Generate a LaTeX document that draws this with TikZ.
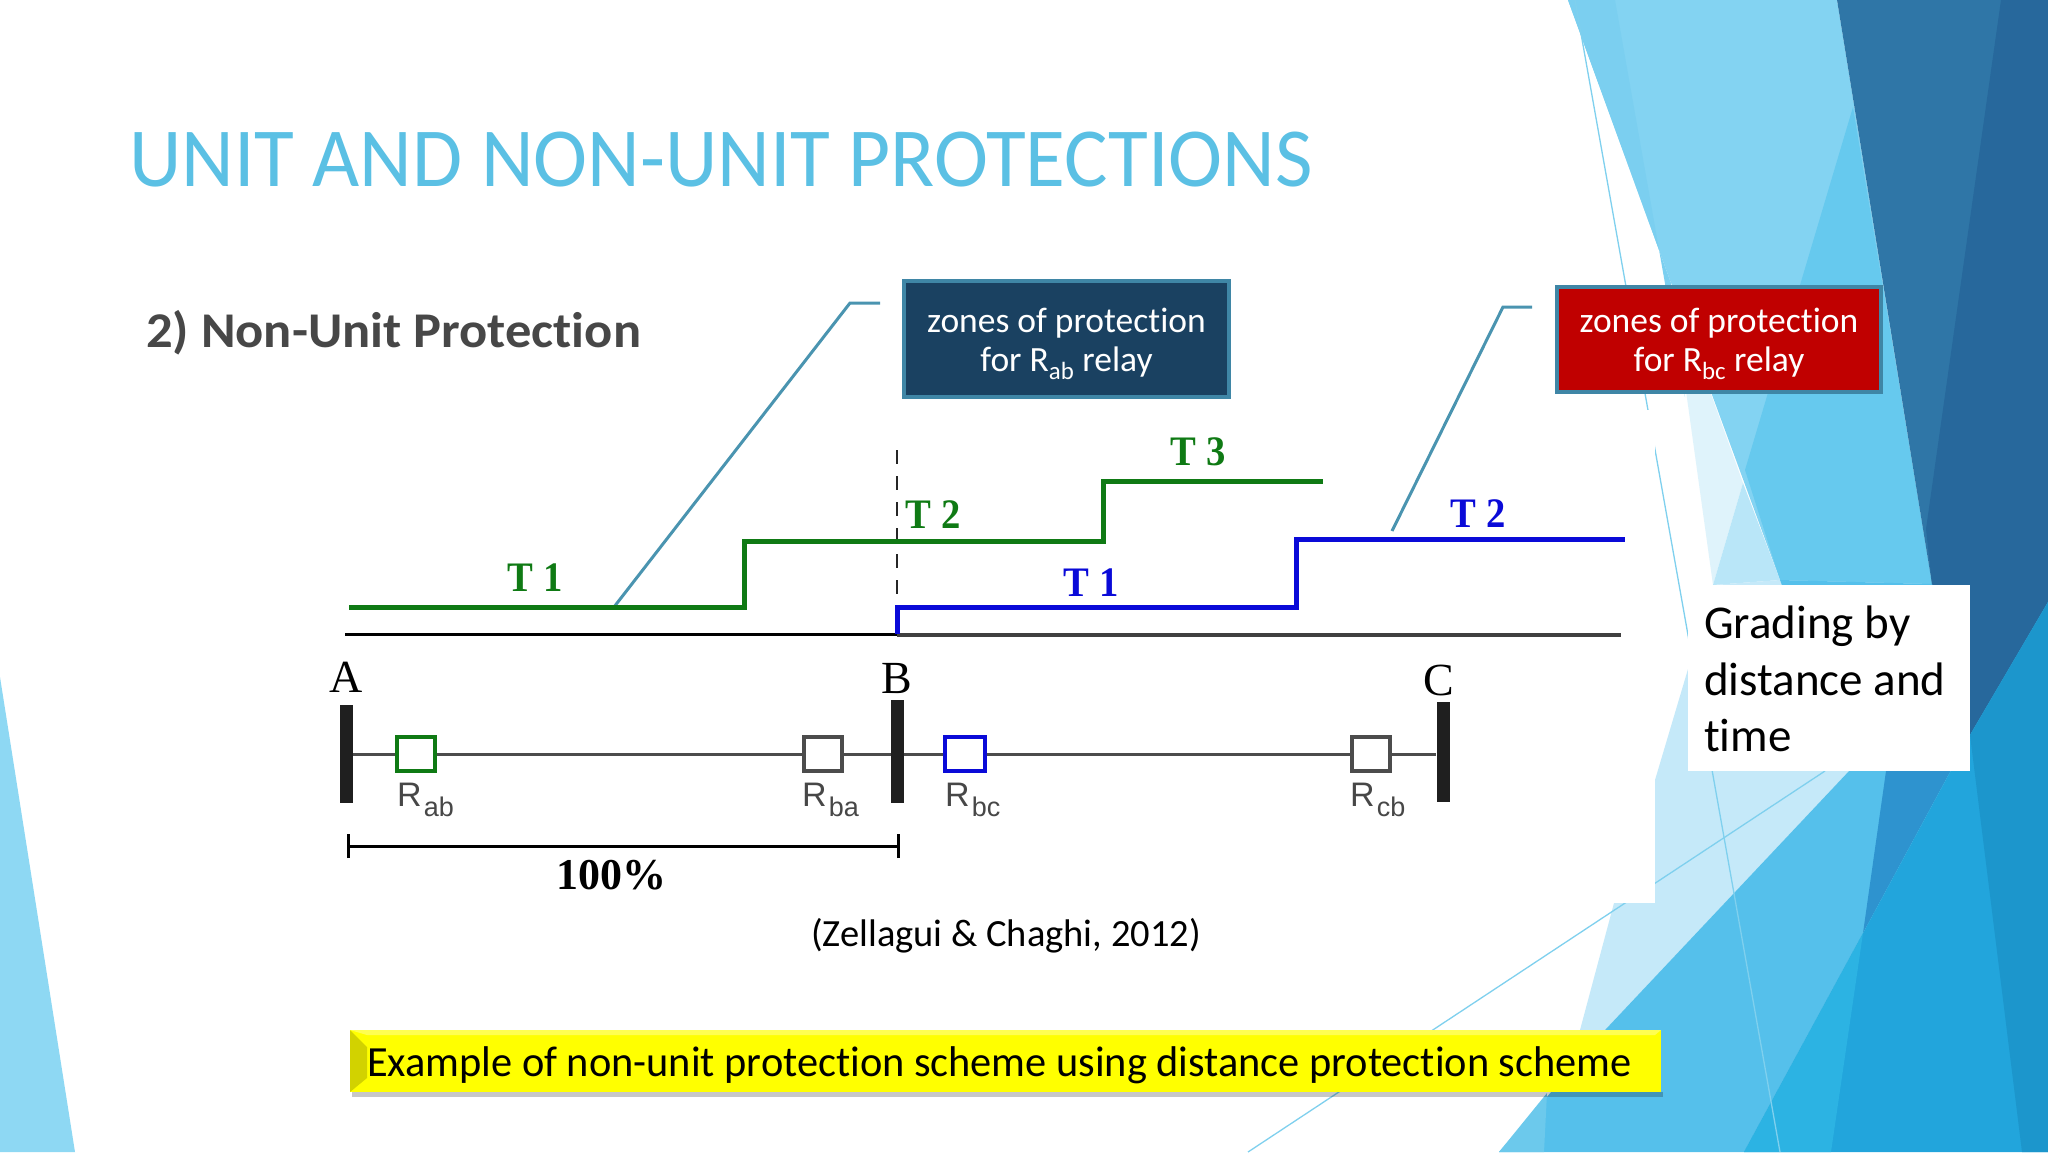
\documentclass[tikz,border=0pt]{standalone}
\usepackage{fontspec}
\setmainfont{Carlito}[Ligatures={TeX,NoCommon}]
\newfontfamily\hel{Liberation Sans}
\newfontfamily\ser{Liberation Serif}
\newcommand{\fsz}[2]{\fontsize{#1}{#2}\selectfont}
\newcommand{\relaylbl}[1]{R\kern2pt\raisebox{-10pt}{\fsz{27}{27}#1}}
\definecolor{titleblue}{HTML}{5BC0E4}
\definecolor{navy}{HTML}{1A4161}
\definecolor{boxedge}{HTML}{3F86A6}
\definecolor{calloutline}{HTML}{4A94B0}
\definecolor{greenline}{HTML}{0F7A14}
\definecolor{blueline}{HTML}{0A0AD8}
\definecolor{redfill}{HTML}{C00000}
\definecolor{thin}{HTML}{7FD0EE}
\definecolor{bannerfill}{HTML}{FFFF00}
\tikzset{
  poly/.style={/utils/exec={\definecolor{pc}{HTML}{#1}},fill=pc,draw=none},
  callbox/.style={draw=boxedge,line width=4pt,minimum width=#1,text=white,align=center,font=\fsz{35.5}{39},inner sep=0pt},
  callline/.style={draw=calloutline,line width=3pt},
  zone/.style={line width=5pt,line join=miter},
  bus/.style={fill=black!88,draw=none,inner sep=0pt,minimum width=13pt},
  relay/.style={draw=#1,line width=4pt,fill=white,inner sep=0pt,minimum width=38pt,minimum height=34pt},
  relaylabel/.style={font=\hel\fsz{34}{34},text=black!72,inner sep=0pt},
  tlabel/.style={font=\ser\bfseries\fsz{42}{42},text=#1,inner sep=0pt},
  buslabel/.style={font=\ser\fsz{46}{46},inner sep=0pt},
  thinline/.style={draw=thin,line width=1.3pt},
  feeder/.style={line width=3pt,black!70}
}
\begin{document}
\begin{tikzpicture}[x=1pt,y=-1pt]
\useasboundingbox (0,0) rectangle (2048,1152);
\fill[white] (0,0) rectangle (2048,1152);
% background facets
\fill[poly=8ED8F3] (0,677)--(75,1152)--(0,1152)--cycle;
\fill[poly=83D3F2] (1568,0)--(1837,0)--(1923,529)--(1932,584)--(1780,580)--(1671,283)--cycle;
\fill[poly=7BCFF0] (1568,0)--(1615,0)--(1685,397)--(1671,283)--cycle;
\fill[poly=66C9EE] (1853,107)--(1923,529)--(1932,584)--(1780,580)--(1745,470)--cycle;
\fill[poly=2F76A7] (1837,0)--(2048,0)--(2048,602)--(1970,735)--(1932,584)--(1923,529)--cycle;
\fill[poly=27689C] (2001,0)--(2040,0)--(2048,0)--(2048,602)--(1970,735)--(1932,584)--(1926,529)--cycle;
\fill[poly=DFF3FB] (1671,283)--(1743,483)--(1713,585)--cycle;
\fill[poly=B9E6F8] (1743,483)--(1780,580)--(1713,585)--cycle;
\fill[poly=C5E9F9] (1713,585)--(1780,580)--(1849,771)--(1605,1030)--(1580,1030)--(1614,903)--(1655,780)--cycle;
\fill[poly=55C0EB] (1780,580)--(1932,584)--(1970,735)--(1863,933)--(1744,1152)--(1499,1152)--(1605,1030)--(1849,771)--cycle;
\fill[poly=6CC9EC] (1499,1152)--(1547,1093)--(1544,1152)--cycle;
\fill[poly=2E93CF] (1932,584)--(1970,735)--(1863,933)--(1886,771)--cycle;
\fill[poly=22A5DC] (2048,602)--(2048,1152)--(1744,1152)--(1863,933)--(1970,735)--cycle;
\fill[poly=2CB3E3] (1863,933)--(1831,1152)--(1744,1152)--cycle;
\fill[poly=1C96CC] (1970,735)--(2048,602)--(2048,1152)--(2022,1152)--cycle;
\coordinate (l1a) at (1575,0);
\coordinate (l1b) at (1780,1152);
\coordinate (l2a) at (1248,1152);
\coordinate (l2b) at (1825,771);
\draw[thinline] (l1a)--(l1b);
\draw[thinline] (l2a)--(l2b);
% picture panel
\fill[white] (300,410) rectangle (1655,903);
\node[fill=white,minimum width=282pt,minimum height=186pt,inner sep=0pt] (grade) at (1829,678) {};
\node[anchor=north west,align=left,inner sep=0pt,font=\fsz{47}{56.5}] (gradetext) at (1704,606) {Grading by\\distance and\\time};
% title
\node[anchor=base west,inner sep=0pt,text=titleblue,font=\fsz{84}{84}] (title) at (129,186) {\addfontfeature{FakeStretch=0.97}UNIT AND NON-UNIT PROTECTIONS};
\node[anchor=base west,inner sep=0pt,text=black!72,font=\bfseries\fsz{50}{50}] (sub) at (146,347) {\addfontfeature{FakeStretch=1.05}2) Non-Unit Protection};
% callouts
\node[callbox=325pt,fill=navy,minimum height=116pt,text depth=0pt] (navybox) at (1066.5,339) {};
\node[anchor=center,align=center,text=white,font=\fsz{35.5}{39},inner sep=0pt] (navytext) at (1066.5,344) {zones of protection\\for R\textsubscript{ab} relay};
\node[callbox=324pt,fill=redfill,minimum height=105pt] (redbox) at (1719,339.5) {};
\node[anchor=center,align=center,text=white,font=\fsz{35.5}{39},inner sep=0pt] (redtext) at (1719,344) {zones of protection\\for R\textsubscript{bc} relay};
\coordinate (c1a) at (880,303); \coordinate (c1b) at (850,303); \coordinate (c1c) at (614,607);
\coordinate (c2a) at (1532,307); \coordinate (c2b) at (1503,307); \coordinate (c2c) at (1392,531);
\draw[callline] (c1a)--(c1b)--(c1c);
\draw[callline] (c2a)--(c2b)--(c2c);
% axis
\coordinate (axA) at (345,634); \coordinate (axB) at (897,634); \coordinate (axBr) at (897,635); \coordinate (axE) at (1621,635);
\draw[line width=3pt,black] (axA)--(axB);
\draw[line width=3.5pt,black!75] (axBr)--(axE);
\coordinate (dashtop) at (897,450);
\draw[line width=2.5pt,black!85,dash pattern=on 14pt off 12pt] (dashtop)--(axB);
% zones
\coordinate (g0) at (349,607); \coordinate (g1) at (744,607); \coordinate (g2) at (744,541);
\coordinate (g3) at (1103,541); \coordinate (g4) at (1103,481); \coordinate (g5) at (1323,481);
\draw[zone,greenline] (g0)--(g1)--(g2)--(g3)--(g4)--(g5);
\coordinate (b1) at (897,607); \coordinate (b2) at (1296,607); \coordinate (b3) at (1296,539); \coordinate (b4) at (1625,539);
\draw[zone,blueline] (axB)--(b1)--(b2)--(b3)--(b4);
\node[tlabel=greenline] (t1g) at (535,578) {\addfontfeature{FakeStretch=0.92}T 1};
\node[tlabel=greenline] (t2g) at (933,515) {\addfontfeature{FakeStretch=0.92}T 2};
\node[tlabel=greenline] (t3g) at (1198,452) {\addfontfeature{FakeStretch=0.92}T 3};
\node[tlabel=blueline] (t1b) at (1091,583) {\addfontfeature{FakeStretch=0.92}T 1};
\node[tlabel=blueline] (t2b) at (1478,514) {\addfontfeature{FakeStretch=0.92}T 2};
% buses
\node[bus,minimum height=98pt] (busA) at (346.5,754) {};
\node[bus,minimum height=103pt] (busB) at (897.5,751.5) {};
\node[bus,minimum height=100pt] (busC) at (1443,752) {};
\node[buslabel] (la) at (346,677) {A};
\node[buslabel] (lb) at (897,678) {B};
\node[buslabel] (lc) at (1439,680) {C};
\node[relay=greenline] (rab) at (416,754) {};
\node[relay=black!70] (rba) at (823,754) {};
\node[relay=blueline,minimum width=40pt] (rbc) at (965,754) {};
\node[relay=black!70] (rcb) at (1371,754) {};
\draw[feeder] (busA.east |- rab.west)--(rab.west);
\draw[feeder] (rab)--(rba);
\draw[feeder] (rba.east)--(rba.east -| busB.west);
\draw[feeder] (busB.east |- rbc.west)--(rbc.west);
\draw[feeder] (rbc)--(rcb);
\draw[feeder] (rcb.east)--(rcb.east -| busC.west);
\node[relaylabel,anchor=base west] (lab) at (397,806) {\relaylbl{ab}};
\node[relaylabel,anchor=base west] (lba) at (802,806) {\relaylbl{ba}};
\node[relaylabel,anchor=base west] (lbc) at (945,806) {\relaylbl{bc}};
\node[relaylabel,anchor=base west] (lcb) at (1350,806) {\relaylbl{cb}};
% dimension
\coordinate (d1) at (348,846); \coordinate (d2) at (898,846);
\draw[line width=3pt,black] (d1)--(d2);
\draw[line width=3pt,black] ([yshift=-12pt]d1)--([yshift=12pt]d1);
\draw[line width=3pt,black] ([yshift=-12pt]d2)--([yshift=12pt]d2);
\node[font=\ser\bfseries\fsz{44}{44},inner sep=0pt] (pct) at (611,875) {100\%};
\node[font=\fsz{38.5}{38.5},inner sep=0pt] (cite) at (1006,936) {(Zellagui \& Chaghi, 2012)};
% banner
\fill[black,opacity=.22] (352,1092) rectangle (1663,1097);
\fill[bannerfill] (350,1030) rectangle (1661,1092);
\fill[poly=D2D200] (350,1030)--(367,1047)--(367,1078)--(350,1092)--cycle;
\fill[poly=FFFF50] (350,1030)--(1661,1030)--(1655,1035)--(367,1035)--cycle;
\node[anchor=base west,inner sep=0pt,font=\fsz{43}{43}] (banner) at (367,1076) {\addfontfeature{FakeStretch=0.985}Example of non-unit protection scheme using distance protection scheme};
\end{tikzpicture}
\end{document}
